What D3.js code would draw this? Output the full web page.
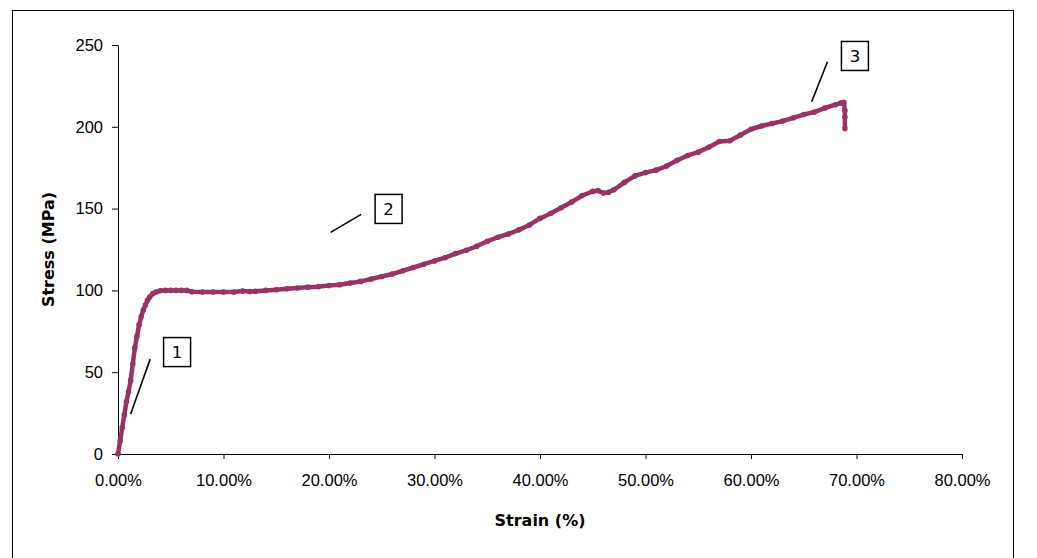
<!DOCTYPE html>
<html>
<head>
<meta charset="utf-8">
<script src="https://cdn.jsdelivr.net/npm/d3@7/dist/d3.min.js"></script>
<style>
  body { margin: 0; background: #fff; }
  svg { display: block; font-family: "DejaVu Sans", Verdana, sans-serif; }
  .tick text { font-size: 16.5px; fill: #000; }
  .domain, .tick line { stroke: #000; }
  .axisTitle { font-size: 16px; font-weight: bold; fill: #000; }
</style>
</head>
<body>
<div id="chart"></div>
<script>
// strain (%)
var strain = [0, 0.2, 0.4, 0.6, 0.8, 1.0, 1.2, 1.4, 1.6, 1.8, 2.0, 2.2, 2.4, 2.6, 2.8, 3.0, 3.3, 3.6, 4.0, 4.5,
  5, 5.5, 6, 6.5, 7, 8, 9, 10, 11, 11.8, 12.5, 13, 14, 15, 16, 17, 18, 19, 20,
  21, 22, 23, 24, 25, 26, 27, 28, 29, 30, 31, 32, 33, 34, 35, 36, 37, 38, 39, 40,
  41, 42, 43, 44, 45, 45.5, 46, 46.5, 47, 48, 49, 50, 51, 52, 53, 54, 55, 56, 57, 58, 59, 60,
  61, 62, 63, 64, 65, 66, 67, 68, 68.5, 68.8, 68.9, 68.9, 68.9];
// stress (MPa)
var stress = [0, 8, 16, 24, 32, 38, 45, 55, 65, 72, 79, 84, 88, 91, 94, 96, 98, 99, 99.8, 100,
  100, 100, 100, 100, 99.2, 99, 99, 99, 99, 99.6, 99.3, 99.5, 100, 100.4, 101, 101.5, 102, 102.3, 103,
  103.5, 104.5, 105.5, 107, 108.5, 110, 112, 114, 116, 118, 120, 122.5, 124.5, 127, 130, 132.5, 134.5, 137, 140, 144,
  147, 150.5, 154, 158, 160.5, 161, 159.5, 160, 161.5, 166, 170, 172, 173.5, 176, 179.5, 182.5, 184.5, 187.5, 191, 191.5, 195, 198.5,
  200.5, 202, 203.5, 205.5, 207.5, 209, 211.5, 213.5, 214.5, 215, 210, 206, 199];

var xTicks = [0, 10, 20, 30, 40, 50, 60, 70, 80];
var yTicks = [0, 50, 100, 150, 200, 250];

// callout boxes and pointer lines, in data units
var boxLabels = ["1", "2", "3"];
var boxX = [5.6, 25.65, 69.85];
var boxY = [62.3, 149.8, 243.3];
var pointerFrom = [[1.2, 24.4], [20.15, 135.5], [65.75, 215.3]];
var pointerTo = [[3.05, 58], [23.05, 146.5], [67.25, 239.8]];

var width = 1037, height = 558;
var plotLeft = 118, plotRight = 962, plotTop = 45, plotBottom = 454;

var svg = d3.select("#chart").append("svg").attr("width", width).attr("height", height);

svg.append("rect")
  .attr("x", 12.5).attr("y", 10.5)
  .attr("width", 1001).attr("height", 600)
  .attr("fill", "none").attr("stroke", "#000");

var x = d3.scaleLinear().domain([0, 80]).range([plotLeft, plotRight]);
var y = d3.scaleLinear().domain([0, 250]).range([plotBottom, plotTop]);

var xAxis = d3.axisBottom(x).tickValues(xTicks).tickSize(5).tickSizeOuter(0).tickPadding(15)
  .tickFormat(function(d) { return d.toFixed(2) + "%"; });
var yAxis = d3.axisLeft(y).tickValues(yTicks).tickSize(6).tickSizeOuter(0).tickPadding(9);

svg.append("g").attr("transform", "translate(0," + plotBottom + ")").call(xAxis);
svg.append("g").attr("transform", "translate(" + plotLeft + ",0)").call(yAxis);

svg.append("text").attr("class", "axisTitle")
  .attr("x", (plotLeft + plotRight) / 2).attr("y", 526)
  .attr("text-anchor", "middle").text("Strain (%)");

svg.append("text").attr("class", "axisTitle")
  .attr("transform", "translate(54," + (plotTop + plotBottom) / 2 + ")rotate(-90)")
  .attr("text-anchor", "middle").text("Stress (MPa)");

var pts = strain.map(function(s, i) { return [s, stress[i]]; });

var line = d3.line()
  .x(function(d) { return x(d[0]); })
  .y(function(d) { return y(d[1]); });

svg.append("path").datum(pts)
  .attr("d", line)
  .attr("fill", "none")
  .attr("stroke", "#993366")
  .attr("stroke-width", 4.5)
  .attr("stroke-linejoin", "round");

svg.selectAll("circle.pt").data(pts).enter()
  .append("circle").attr("class", "pt")
  .attr("cx", function(d) { return x(d[0]); })
  .attr("cy", function(d) { return y(d[1]); })
  .attr("r", 2.8)
  .attr("fill", "#993366");

// callouts
pointerFrom.forEach(function(p, i) {
  svg.append("line")
    .attr("x1", x(p[0])).attr("y1", y(p[1]))
    .attr("x2", x(pointerTo[i][0])).attr("y2", y(pointerTo[i][1]))
    .attr("stroke", "#000").attr("stroke-width", 1.6);
});

boxLabels.forEach(function(t, i) {
  var cx = x(boxX[i]), cy = y(boxY[i]);
  svg.append("rect")
    .attr("x", cx - 13.5).attr("y", cy - 14.5)
    .attr("width", 27).attr("height", 29)
    .attr("fill", "#fff").attr("stroke", "#000").attr("stroke-width", 1.5);
  svg.append("text")
    .attr("x", cx).attr("y", cy + 6)
    .attr("text-anchor", "middle")
    .attr("font-size", 16.5)
    .text(t);
});
</script>
</body>
</html>
